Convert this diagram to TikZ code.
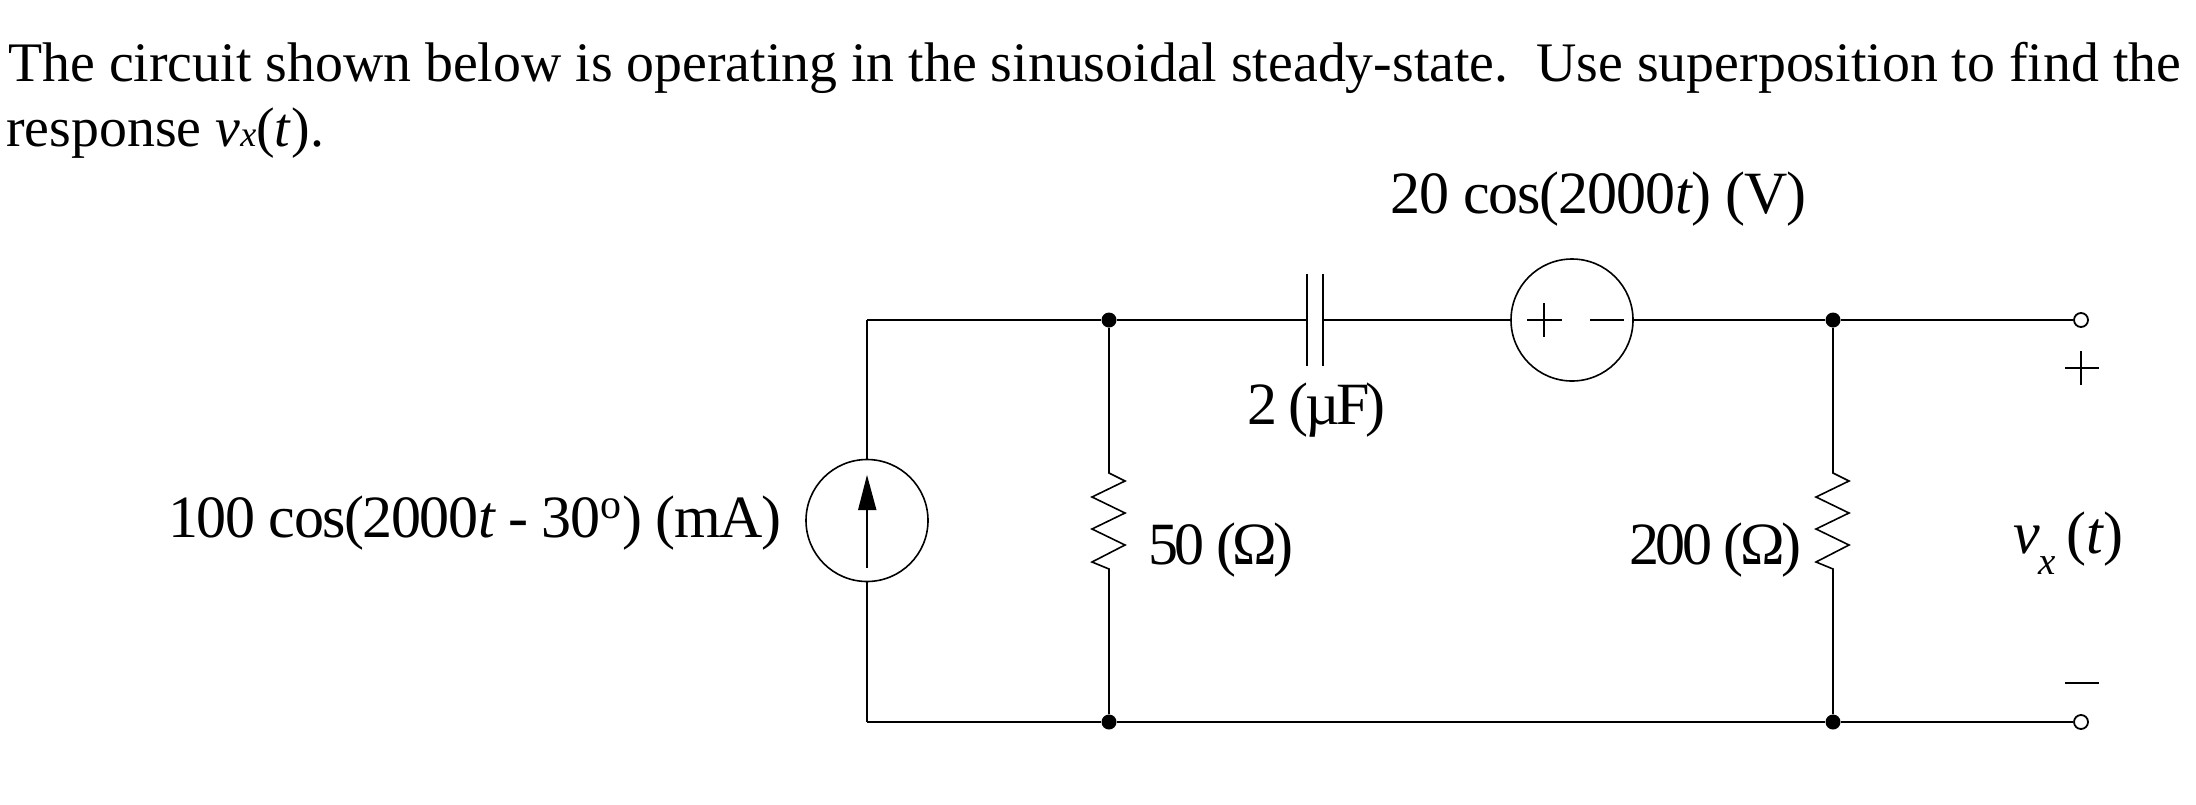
\documentclass[tikz,border=0pt]{standalone}
\usepackage{fontspec}
\setmainfont{Liberation Serif}
\usetikzlibrary{calc}
\tikzset{
	wire/.style={line width=1.1pt},
	thinwire/.style={line width=0.8pt},
	junction/.style={circle, fill=black, inner sep=0pt, minimum size=7.5pt},
	terminal/.style={circle, draw, fill=white, line width=0.9pt, inner sep=0pt, minimum size=7pt},
	source/.style={circle, draw, fill=white, line width=0.8pt, inner sep=0pt, minimum size=61pt},
	titletext/.style={anchor=base west, inner sep=0pt, font=\fontsize{27.9}{33}\selectfont},
	label/.style={anchor=base west, inner sep=0pt, font=\fontsize{30}{36}\selectfont\addfontfeature{LetterSpace=-1.9}},
	widelabel/.style={label, font=\fontsize{30}{36}\selectfont\addfontfeature{LetterSpace=-2.5}},
	tightlabel/.style={label, font=\fontsize{30}{36}\selectfont\addfontfeature{LetterSpace=-6}}
}
\def\zigres(#1)(#2){\draw[thinwire] (#1) -- ($(#1)+(0,153)$) -- ++(16,8) -- ++(-33,16) -- ++(33,16) -- ++(-33,16) -- ++(33,16) -- ++(-33,17) -- ++(17,7) -- (#2);}

\begin{document}
\begin{tikzpicture}[x=0.5pt,y=-0.5pt]
	%%%%% START %%%%%
	\useasboundingbox (0, 0) rectangle (2196, 804);

	\node[titletext] (title) at (8, 81) {The circuit shown below is operating in the sinusoidal steady-state.\ \ Use superposition to find the};
	\node[titletext] (titleb) at (6, 146) {response \textit{v}{\fontsize{18}{20}\selectfont\textit{x}}(\textit{t}).};

	\coordinate (cornertop) at (867, 320);
	\coordinate (cornerbot) at (867, 722);
	\coordinate (capleft) at (1307, 320);
	\coordinate (capright) at (1323, 320);

	\node[junction] (ja) at (1109, 320) {};
	\node[junction] (jb) at (1109, 722) {};
	\node[junction] (jc) at (1833, 320) {};
	\node[junction] (jd) at (1833, 722) {};
	\node[terminal] (outtop) at (2081, 320) {};
	\node[terminal] (outbot) at (2081, 722) {};

	% wires first, the sources sit on top
	\draw[thinwire] (cornertop) -- (867, 459);
	\draw[thinwire] (867, 582) -- (cornerbot);
	\draw[wire] (cornertop) -- (ja) -- (capleft);
	\draw[wire] (capright) -- (1511, 320);
	\draw[wire] (1633, 320) -- (jc) -- (outtop);
	\draw[wire] (cornerbot) -- (jb) -- (jd) -- (outbot);

	\node[source] (vsrc) at (1572, 320) {};
	\node[source] (isrc) at (867, 520.5) {};

	% capacitor
	\draw[thinwire] ($(capleft)+(0,-46)$) -- ($(capleft)+(0,46)$);
	\draw[thinwire] ($(capright)+(0,-46)$) -- ($(capright)+(0,46)$);

	% resistors
	\zigres(ja)(jb);
	\zigres(jc)(jd);

	% signs in the voltage source
	\draw[thinwire] (1527, 320) -- (1562, 320);
	\draw[thinwire] (1544, 303) -- (1544, 337);
	\draw[thinwire] (1590, 320) -- (1624, 320);

	% arrow in the current source
	\draw[thinwire] (isrc.center) ++(0, 47.5) -- ++(0, -60);
	\fill (867, 475) -- (876.5, 510) -- (858, 510) -- cycle;

	% output signs
	\draw[thinwire] (2065, 368) -- (2099, 368);
	\draw[thinwire] (2081, 351) -- (2081, 385);
	\draw[thinwire] (2065, 683) -- (2099, 683);

	\node[label] (vlabel) at (1390, 213) {20 cos(2000\textit{t}) (V)};
	\node[tightlabel] (clabel) at (1247, 424) {2 (\symbol{"00B5}F)};
	\node[widelabel] (ilabel) at (168, 537) {100 cos(2000\textit{t} - 30\textsuperscript{o}) (mA)};
	\node[tightlabel] (rlabela) at (1148, 564) {50 (\symbol{"03A9})};
	\node[tightlabel] (rlabelb) at (1629, 564) {200 (\symbol{"03A9})};
	\node[label] (outv) at (2013, 553) {\textit{v}};
	\node[label, font=\fontsize{19.5}{24}\selectfont] (outx) at (2038, 574) {\textit{x}};
	\node[label] (outt) at (2066, 553) {(\textit{t})};
	%%%%% END %%%%%
\end{tikzpicture}
\end{document}
